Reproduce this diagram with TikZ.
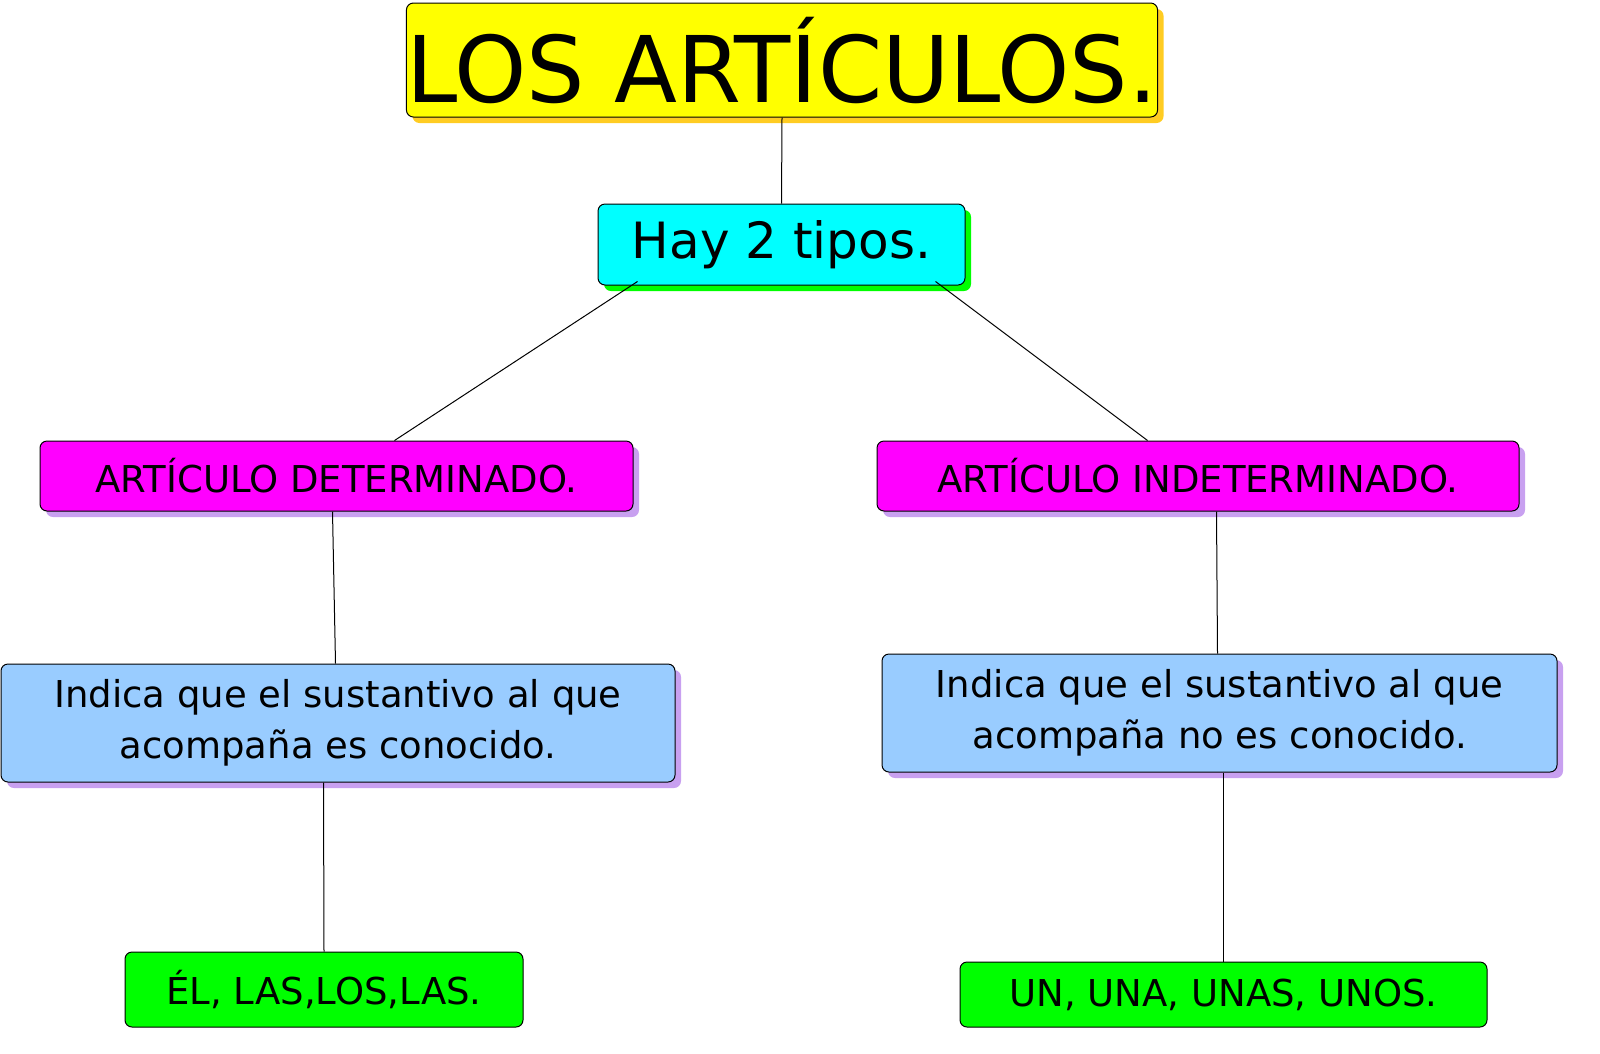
\documentclass[tikz,border=0pt]{standalone}
\usepackage{fontspec}
\setmainfont{DejaVu Sans}
\usetikzlibrary{shadows,calc}
\definecolor{ttl}{HTML}{FFFF00}
\definecolor{ttlsh}{HTML}{FFCC22}
\definecolor{cy}{HTML}{00FFFF}
\definecolor{gr}{HTML}{00FF00}
\definecolor{mg}{HTML}{FF00FF}
\definecolor{vi}{HTML}{C8A0F0}
\definecolor{lb}{HTML}{99CCFF}
\tikzset{
 box/.style={draw=black, line width=1pt, rounded corners=7pt, inner sep=0pt, align=center},
 sh/.style={drop shadow={shadow xshift=6pt, shadow yshift=-6pt, fill=#1, opacity=1}},
 con/.style={draw=black, line width=1pt}
}
\begin{document}
\begin{tikzpicture}[x=1pt,y=-1pt]
\useasboundingbox (0,0) rectangle (1600,1053);
\node[box, fill=ttl, sh=ttlsh, minimum width=750pt, minimum height=114pt, font=\fontsize{92}{96}\selectfont] (title) at (782,60) {LOS ARTÍCULOS.};
\node[box, fill=cy, sh=gr, minimum width=367pt, minimum height=81pt, font=\fontsize{50}{54}\selectfont] (hay) at (781.5,244.5) {Hay 2 tipos.};
\node[box, fill=mg, sh=vi, minimum width=593pt, minimum height=70pt, font=\fontsize{37}{40}\selectfont] (det) at (336.5,476) {ARTÍCULO DETERMINADO.};
\node[box, fill=mg, sh=vi, minimum width=642pt, minimum height=70pt, font=\fontsize{37}{40}\selectfont] (ind) at (1198,476) {ARTÍCULO INDETERMINADO.};
\node[box, fill=lb, sh=vi, minimum width=674pt, minimum height=118pt, font=\fontsize{37}{51}\selectfont] (i1) at (338,723) {Indica que el sustantivo al que\\acompaña es conocido.};
\node[box, fill=lb, sh=vi, minimum width=675pt, minimum height=118pt, font=\fontsize{37}{51}\selectfont] (i2) at (1219.5,713) {Indica que el sustantivo al que\\acompaña no es conocido.};
\node[box, fill=gr, minimum width=398pt, minimum height=75pt, font=\fontsize{37}{40}\selectfont] (el) at (324,989.5) {ÉL, LAS,LOS,LAS.};
\node[box, fill=gr, minimum width=527pt, minimum height=65pt, font=\fontsize{37}{40}\selectfont] (un) at (1223.5,994.5) {UN, UNA, UNAS, UNOS.};
\draw[con] (title.south) -- (hay.north);
\draw[con] ($(hay.south west)+(40,-4)$) -- ($(det.north west)+(355,0)$);
\draw[con] ($(hay.south east)+(-30,-4)$) -- ($(ind.north west)+(271,0)$);
\draw[con] ($(det.south west)+(293,0)$) -- ($(i1.north west)+(335,0)$);
\draw[con] ($(ind.south west)+(340,0)$) -- ($(i2.north west)+(336,0)$);
\draw[con] ($(i1.south west)+(323,0)$) -- (el.north);
\draw[con] ($(i2.south west)+(342,0)$) -- (un.north);
\end{tikzpicture}
\end{document}
